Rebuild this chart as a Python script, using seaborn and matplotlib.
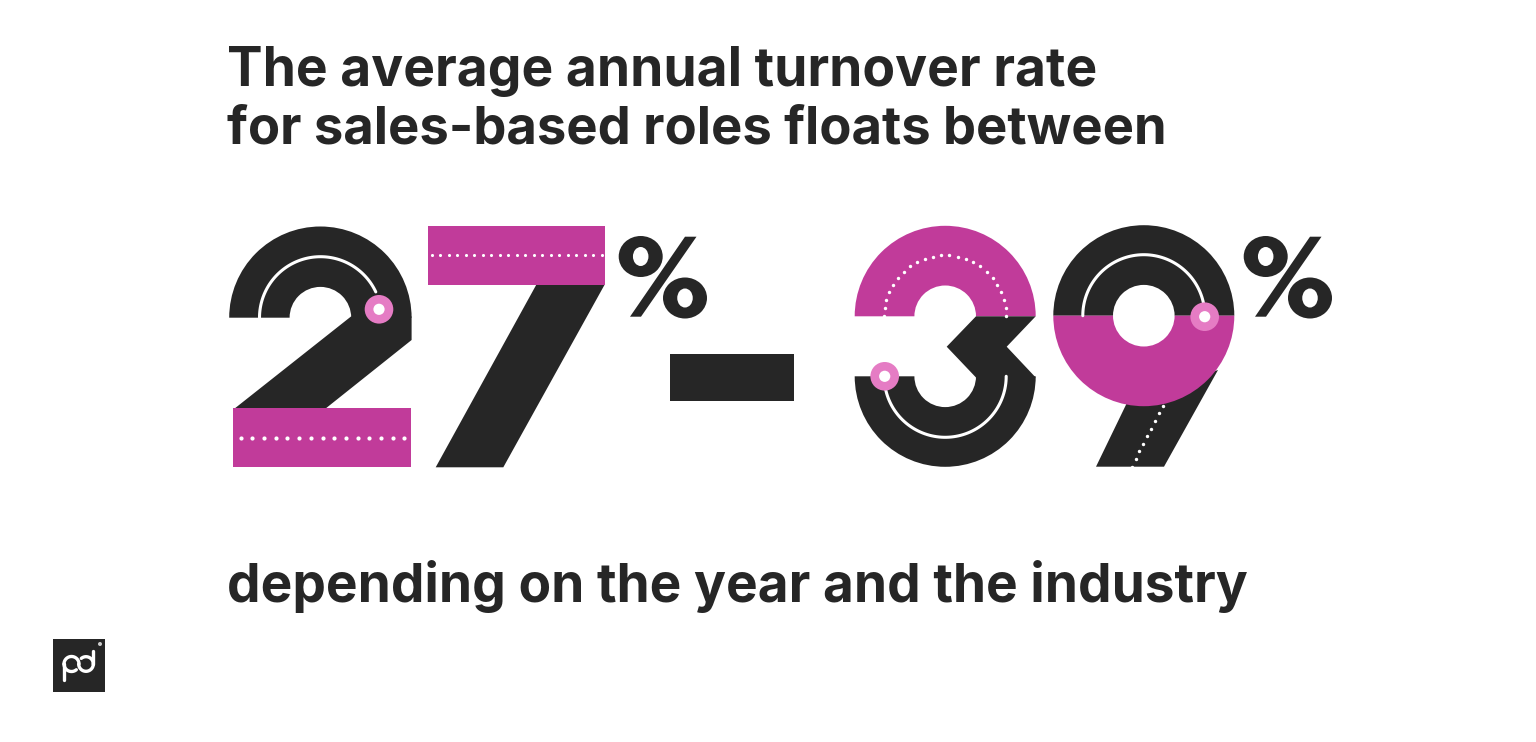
import numpy as np
import pandas as pd
import matplotlib
matplotlib.use('Agg')
import matplotlib.pyplot as plt
import seaborn as sns
from matplotlib.patches import Wedge, Polygon, Rectangle, Ellipse, Circle

# chart content
title_lines = ['The average annual turnover rate', 'for sales-based roles floats between']
footer_text = 'depending on the year and the industry'
low_rate = 27
high_rate = 39

INK = '#262626'
MAGENTA = '#c13b9a'
PINK = '#e57cc4'
WHITE = '#ffffff'

sns.set_theme(style='white')
plt.rcParams['font.family'] = ['Inter', 'DejaVu Sans']

fig, ax = plt.subplots(figsize=(15.36, 7.42), dpi=100)
ax.set_position([0, 0, 1, 1])
ax.set_xlim(0, 1536)
ax.set_ylim(742, 0)
ax.axis('off')


# y axis is flipped, so 180-360 is the upper half
def half_ring(cx, cy, color, top=True, r=90.5, inner=30.8):
    t1, t2 = (180, 360) if top else (0, 180)
    ax.add_patch(Wedge((cx, cy), r, t1, t2, width=r - inner, color=color, lw=0))


def poly(points, color):
    ax.add_patch(Polygon(points, closed=True, color=color, lw=0))


def stroke(xs, ys, lw=2.2):
    df = pd.DataFrame({'x': xs, 'y': ys})
    sns.lineplot(data=df, x='x', y='y', color=WHITE, lw=lw, ax=ax, sort=False, estimator=None, legend=False, zorder=4)


def arc_line(cx, cy, t1, t2, r=61, lw=2.2):
    t = np.radians(np.linspace(t1, t2, 80))
    stroke(cx + r * np.cos(t), cy + r * np.sin(t), lw)


def dots(xs, ys, size=7):
    df = pd.DataFrame({'x': xs, 'y': ys})
    sns.scatterplot(data=df, x='x', y='y', color=WHITE, s=size, linewidth=0, ax=ax, legend=False, zorder=5)


def pin(cx, cy):
    ax.add_patch(Circle((cx, cy), 14.3, color=PINK, lw=0, zorder=6))
    ax.add_patch(Circle((cx, cy), 5.6, color=WHITE, lw=0, zorder=7))


def percent(x0):
    # x0 is the left end of the slash foot
    for dx, cy in [(10.7, 256.5), (55, 298)]:
        ax.add_patch(Ellipse((x0 + dx, cy), 44, 41, color=INK, lw=0))
        ax.add_patch(Ellipse((x0 + dx, cy), 15.5, 19, color=WHITE, lw=0))
    poly([(x0 + 55, 236.7), (x0 + 66.5, 236.7), (x0 + 11, 316.7), (x0, 316.7)], INK)


# digit 2
half_ring(320.4, 317.7, INK, r=91.2)
poly([(351, 316.5), (411.6, 316.5), (411.6, 340), (325, 409), (234, 409)], INK)
ax.add_patch(Rectangle((233.3, 408.3), 177.4, 59, color=MAGENTA, lw=0))
arc_line(320.5, 317.7, 180, 335)
dots(np.linspace(240.7, 404.3, 15), np.full(15, 438.0), 9)
pin(379, 309.3)

# digit 7
poly([(536.7, 284), (605, 284), (503.3, 467.3), (435.7, 467.3)], INK)
ax.add_patch(Rectangle((427.7, 226), 177.3, 59, color=MAGENTA, lw=0))
dots(np.linspace(431.7, 601.7, 21), np.full(21, 255.3), 5)
percent(630)

# dash
ax.add_patch(Rectangle((670, 354), 123.5, 46.7, color=INK, lw=0))

# digit 3
half_ring(945.2, 316.3, MAGENTA)
half_ring(945.2, 376.3, INK, top=False)
poly([(976, 316.3), (1035.7, 316.3), (1006.7, 346.7), (1035.7, 377.5), (976, 377.5), (946.7, 346.7)], INK)
t = np.radians(np.linspace(180, 360, 24))
dots(945.2 + 61 * np.cos(t), 316.3 + 61 * np.sin(t), 6)
arc_line(945.2, 376.3, 0, 180)
pin(884.7, 376.3)

# digit 9
poly([(1128.3, 400), (1218, 370), (1164, 466.7), (1096, 466.7)], INK)
half_ring(1143.8, 315.7, INK)
half_ring(1143.8, 315.7, MAGENTA, top=False)
arc_line(1143.8, 315.7, 180, 360)
dots(np.linspace(1162.7, 1131.7, 9), np.linspace(405.7, 466.7, 9), 6)
pin(1204.7, 316.7)
percent(1255)

# headline and footer
ax.text(227, 86, title_lines[0], color=INK, fontsize=38.4, fontweight='bold', va='baseline')
ax.text(227, 143.5, title_lines[1], color=INK, fontsize=37.8, fontweight='bold', va='baseline')
ax.text(227, 602, footer_text, color=INK, fontsize=38.3, fontweight='bold', va='baseline')

# logo
ax.add_patch(Rectangle((52.5, 639), 52, 52.5, color=INK, lw=0))
arc_line(71.5, 664, 180, 360, r=7.5, lw=2.4)
arc_line(71.5, 664, 50, 180, r=7.5, lw=2.4)
arc_line(86, 664, 0, 180, r=7.3, lw=2.4)
arc_line(86, 664, 230, 360, r=7.3, lw=2.4)
stroke([64, 64], [664, 680], 2.4)
stroke([93.3, 93.3], [664, 651], 2.4)
ax.add_patch(Circle((100, 644), 2, color='#cccccc', lw=0, zorder=5))

ax.set_xlabel('')
ax.set_ylabel('')
ax.set_xlim(0, 1536)
ax.set_ylim(742, 0)

fig.savefig('out.png', dpi=100)
